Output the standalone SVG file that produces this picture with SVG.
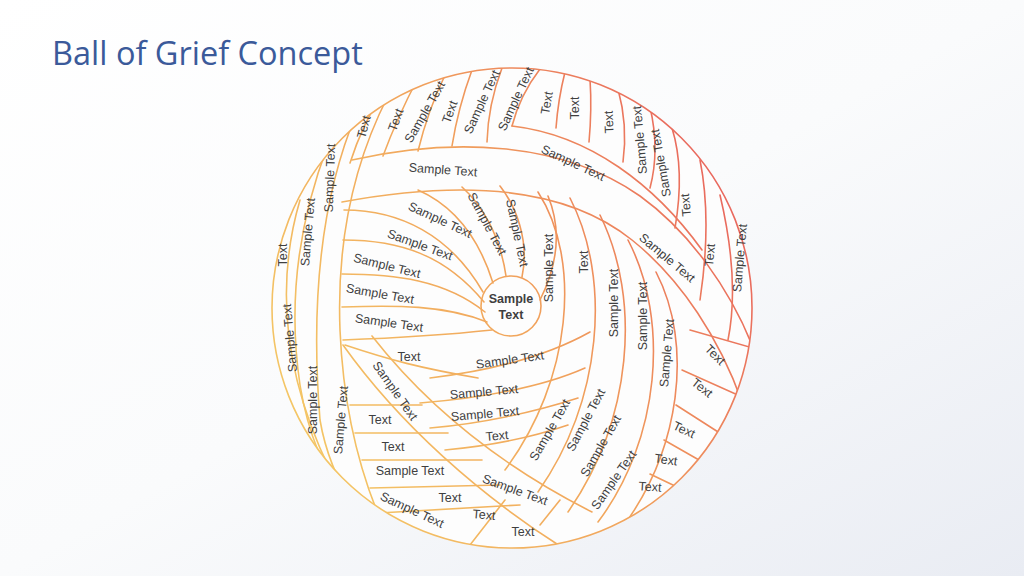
<svg xmlns="http://www.w3.org/2000/svg" width="1024" height="576" viewBox="0 0 1024 576">
<defs>
<linearGradient id="bg" x1="0" y1="0" x2="1" y2="1"><stop offset="0" stop-color="#ffffff"/><stop offset="0.5" stop-color="#fafbfc"/><stop offset="1" stop-color="#e9ecf3"/></linearGradient>
<linearGradient id="yarn" gradientUnits="userSpaceOnUse" x1="280" y1="420" x2="750" y2="180"><stop offset="0" stop-color="#F4C866"/><stop offset="0.5" stop-color="#F1A45C"/><stop offset="1" stop-color="#E8615E"/></linearGradient>
<clipPath id="ballclip"><circle cx="512" cy="308" r="240"/></clipPath>
<style>
.y{fill:none;stroke:url(#yarn);stroke-width:1.6;stroke-linecap:round}
.t{font-family:"Liberation Sans",Arial,sans-serif;font-size:12.5px;fill:#3f3f3f;text-anchor:middle;dominant-baseline:central}
</style>
</defs>
<rect width="1024" height="576" fill="url(#bg)"/>
<text x="52" y="65" font-family="'Open Sans','Liberation Sans',sans-serif" font-size="32.5" fill="#3B5A9A">Ball of Grief Concept</text>
<g id="ball">
<circle cx="512" cy="308" r="240" fill="#fdfdfd"/>
</g>
<g id="connectors" clip-path="url(#ballclip)">
<path class="y" d="M300,200 Q262,330 330,470"/>
<path class="y" d="M328,145 Q282,265 300,385 Q312,460 355,515"/>
<path class="y" d="M357,112 Q305,235 320,420 Q330,480 375,538"/>
<path class="y" d="M388,96 Q335,200 340,330 Q345,450 392,545"/>
<path class="y" d="M385,88 Q362,125 350,163"/>
<path class="y" d="M418,78 Q397,118 383,156"/>
<path class="y" d="M446,73 Q428,110 418,151"/>
<path class="y" d="M472,70 Q458,108 452,146"/>
<path class="y" d="M502,68 Q488,105 487,142"/>
<path class="y" d="M540,69 Q520,95 512,126"/>
<path class="y" d="M565,72 Q558,100 556,128"/>
<path class="y" d="M590,79 Q592,110 589,142"/>
<path class="y" d="M618,89 Q628,125 623,162"/>
<path class="y" d="M650,107 Q660,150 650,188"/>
<path class="y" d="M672,128 Q685,170 675,228"/>
<path class="y" d="M700,160 Q712,220 700,300"/>
<path class="y" d="M720,195 Q740,280 728,340"/>
<path class="y" d="M352,160 C450,138 560,140 640,196 C690,232 730,290 752,345"/>
<path class="y" d="M342,202 C450,182 560,182 632,240 C682,280 720,340 742,402"/>
<path class="y" d="M512,126 C590,135 655,185 702,250"/>
<path class="y" d="M493,283 C478,235 452,205 418,190"/>
<path class="y" d="M506,276 C500,235 482,205 462,187"/>
<path class="y" d="M522,277 C530,240 515,205 500,186"/>
<path class="y" d="M483,292 C450,235 400,210 344,210"/>
<path class="y" d="M484,302 C445,255 400,240 343,240"/>
<path class="y" d="M485,312 C445,280 395,274 342,274"/>
<path class="y" d="M487,322 C445,305 395,305 342,307"/>
<path class="y" d="M492,330 C445,335 395,338 343,340"/>
<path class="y" d="M538,192 C582,260 572,380 505,470"/>
<path class="y" d="M570,198 C612,280 602,400 538,492"/>
<path class="y" d="M600,215 C642,300 632,420 568,512"/>
<path class="y" d="M628,240 C670,320 660,440 598,522"/>
<path class="y" d="M656,272 C694,345 680,450 622,528"/>
<path class="y" d="M540,300 C560,260 560,225 548,196"/>
<path class="y" d="M690,330 L760,350"/>
<path class="y" d="M682,370 L760,405"/>
<path class="y" d="M676,405 L740,446"/>
<path class="y" d="M664,440 L720,472"/>
<path class="y" d="M650,474 L700,498"/>
<path class="y" d="M430,378 C480,372 540,360 590,332"/>
<path class="y" d="M420,403 C480,398 540,388 585,368"/>
<path class="y" d="M430,428 C480,424 535,412 578,398"/>
<path class="y" d="M445,450 C490,446 530,438 568,425"/>
<path class="y" d="M345,345 C390,360 420,368 478,378"/>
<path class="y" d="M343,345 C400,425 480,495 560,546"/>
<path class="y" d="M372,336 C430,410 505,468 592,512"/>
<path class="y" d="M350,405 L422,405"/>
<path class="y" d="M355,433 L448,433"/>
<path class="y" d="M362,460 L482,460"/>
<path class="y" d="M370,488 L500,485"/>
<path class="y" d="M378,513 L520,505"/>
<path class="y" d="M470,545 L505,500"/>
<path class="y" d="M540,525 L560,500"/>
</g>
<circle cx="512" cy="308" r="240" class="y"/>
<g id="center">
<circle cx="511" cy="306" r="30" fill="#fdfdfd" class="y"/>
<text class="t" x="511" y="299" font-weight="bold">Sample</text>
<text class="t" x="511" y="315" font-weight="bold">Text</text>
</g>
<g id="labels">
<text class="t" transform="translate(364,127) rotate(-75)">Text</text>
<text class="t" transform="translate(396,120) rotate(-70)">Text</text>
<text class="t" transform="translate(425,112) rotate(-60)">Sample Text</text>
<text class="t" transform="translate(450,112) rotate(-70)">Text</text>
<text class="t" transform="translate(482,102) rotate(-65)">Sample Text</text>
<text class="t" transform="translate(516,99) rotate(-65)">Sample Text</text>
<text class="t" transform="translate(547,103) rotate(-80)">Text</text>
<text class="t" transform="translate(575,108) rotate(-90)">Text</text>
<text class="t" transform="translate(609,122) rotate(-92)">Text</text>
<text class="t" transform="translate(640,140) rotate(-95)">Sample Text</text>
<text class="t" transform="translate(661,163) rotate(-100)">Sample Text</text>
<text class="t" transform="translate(686,205) rotate(-95)">Text</text>
<text class="t" transform="translate(710,255) rotate(-85)">Text</text>
<text class="t" transform="translate(740,258) rotate(-85)">Sample Text</text>
<text class="t" transform="translate(330,178) rotate(-88)">Sample Text</text>
<text class="t" transform="translate(308,232) rotate(-85)">Sample Text</text>
<text class="t" transform="translate(283,255) rotate(-90)">Text</text>
<text class="t" transform="translate(290,338) rotate(-95)">Sample Text</text>
<text class="t" transform="translate(313,400) rotate(-90)">Sample Text</text>
<text class="t" transform="translate(341,420) rotate(-85)">Sample Text</text>
<text class="t" transform="translate(443,170) rotate(4)">Sample Text</text>
<text class="t" transform="translate(573,163) rotate(25)">Sample Text</text>
<text class="t" transform="translate(667,258) rotate(40)">Sample Text</text>
<text class="t" transform="translate(440,220) rotate(25)">Sample Text</text>
<text class="t" transform="translate(420,245) rotate(20)">Sample Text</text>
<text class="t" transform="translate(387,266) rotate(14)">Sample Text</text>
<text class="t" transform="translate(380,294) rotate(10)">Sample Text</text>
<text class="t" transform="translate(389,323) rotate(8)">Sample Text</text>
<text class="t" transform="translate(487,224) rotate(62)">Sample Text</text>
<text class="t" transform="translate(517,233) rotate(78)">Sample Text</text>
<text class="t" transform="translate(549,268) rotate(-90)">Sample Text</text>
<text class="t" transform="translate(584,262) rotate(-90)">Text</text>
<text class="t" transform="translate(614,303) rotate(-90)">Sample Text</text>
<text class="t" transform="translate(643,316) rotate(-90)">Sample Text</text>
<text class="t" transform="translate(667,353) rotate(-85)">Sample Text</text>
<text class="t" transform="translate(715,355) rotate(45)">Text</text>
<text class="t" transform="translate(702,388) rotate(38)">Text</text>
<text class="t" transform="translate(684,430) rotate(25)">Text</text>
<text class="t" transform="translate(666,460) rotate(8)">Text</text>
<text class="t" transform="translate(650,487) rotate(4)">Text</text>
<text class="t" transform="translate(409,357)">Text</text>
<text class="t" transform="translate(510,360) rotate(-8)">Sample Text</text>
<text class="t" transform="translate(395,391) rotate(55)">Sample Text</text>
<text class="t" transform="translate(484,392) rotate(-5)">Sample Text</text>
<text class="t" transform="translate(485,414) rotate(-5)">Sample Text</text>
<text class="t" transform="translate(497,436) rotate(-5)">Text</text>
<text class="t" transform="translate(380,420)">Text</text>
<text class="t" transform="translate(393,447)">Text</text>
<text class="t" transform="translate(410,471)">Sample Text</text>
<text class="t" transform="translate(550,430) rotate(-60)">Sample Text</text>
<text class="t" transform="translate(586,420) rotate(-62)">Sample Text</text>
<text class="t" transform="translate(601,446) rotate(-60)">Sample Text</text>
<text class="t" transform="translate(614,480) rotate(-55)">Sample Text</text>
<text class="t" transform="translate(515,490) rotate(20)">Sample Text</text>
<text class="t" transform="translate(450,498)">Text</text>
<text class="t" transform="translate(412,510) rotate(25)">Sample Text</text>
<text class="t" transform="translate(484,515) rotate(5)">Text</text>
<text class="t" transform="translate(523,532)">Text</text>
</g>
</svg>
